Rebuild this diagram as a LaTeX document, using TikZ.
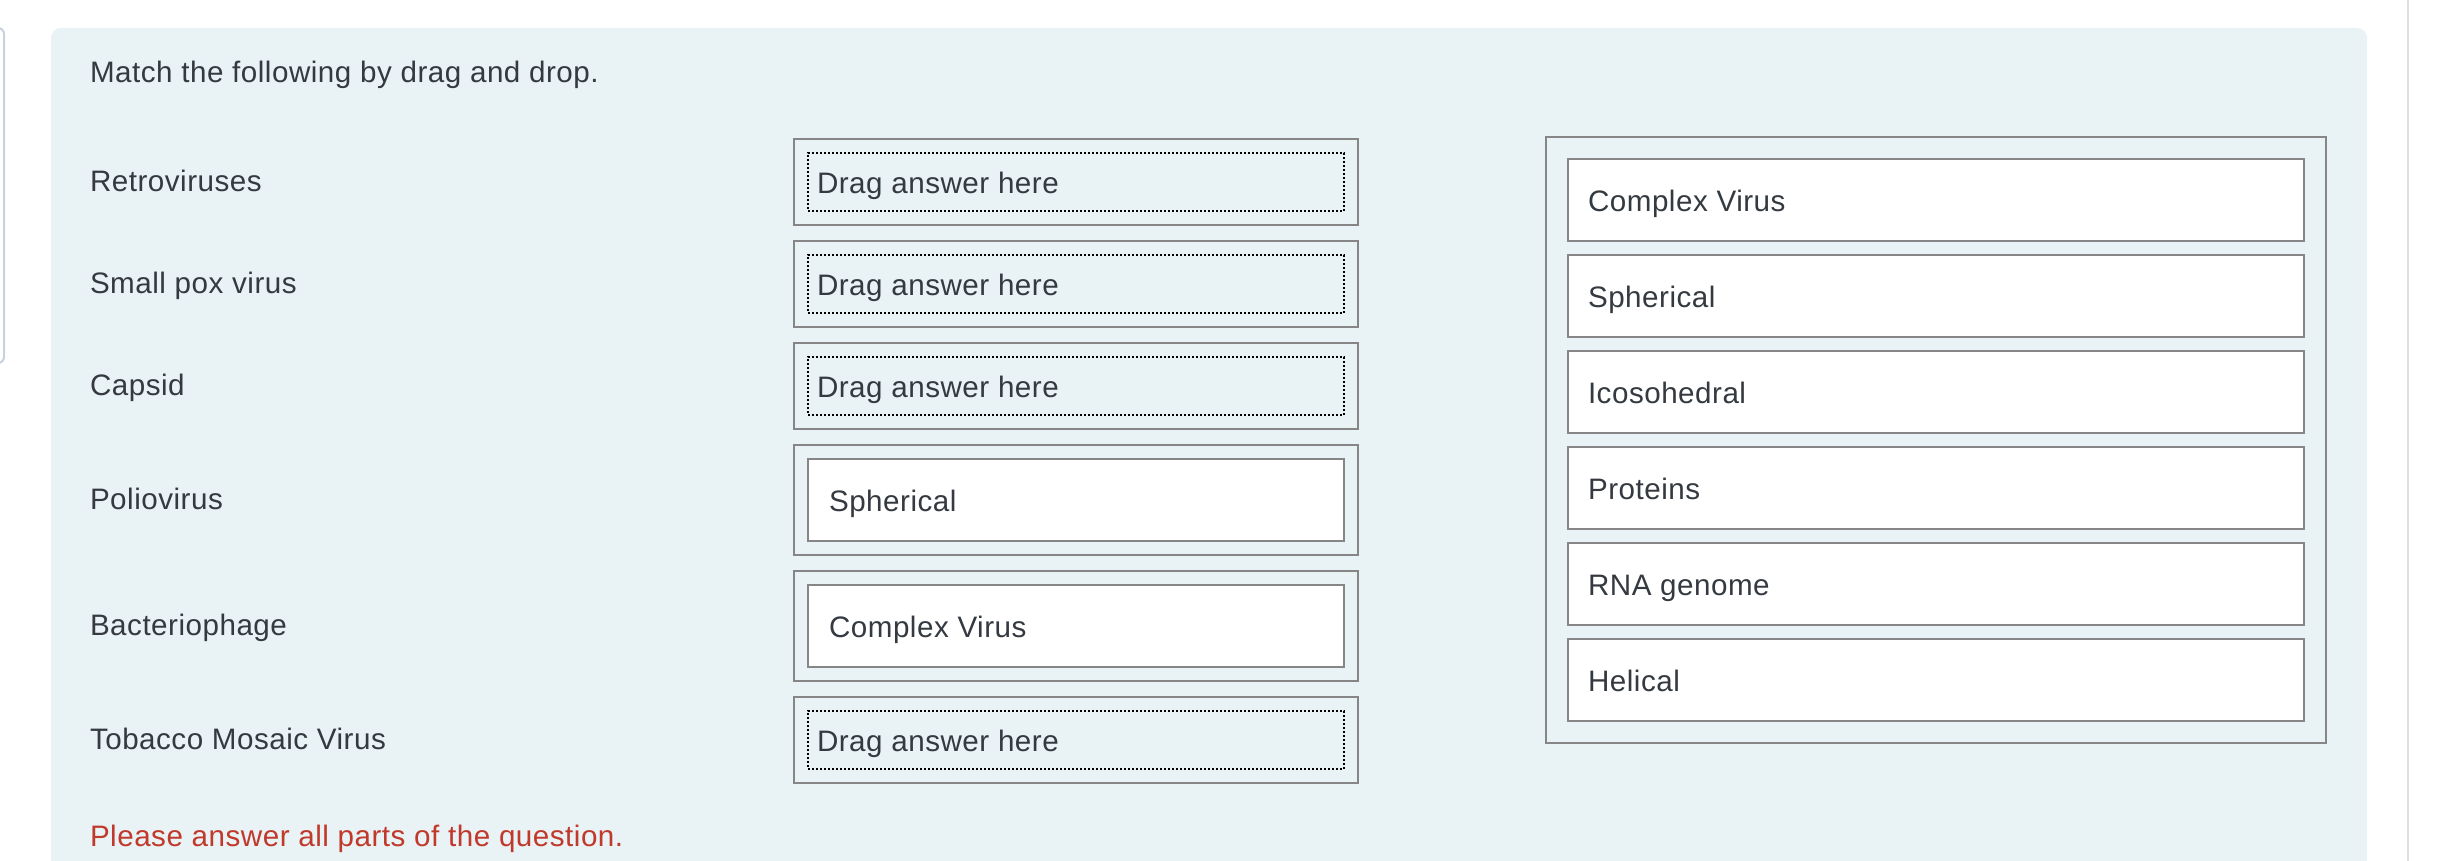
\documentclass[tikz,border=0pt]{standalone}
\usepackage{fontspec}
\setmainfont[LetterSpace=1.7]{Liberation Sans}
\definecolor{panel}{HTML}{E9F2F5}
\definecolor{ink}{HTML}{343A40}
\definecolor{edge}{HTML}{868686}
\definecolor{alert}{HTML}{C0392B}
\definecolor{cardline}{HTML}{C9D2DC}
\definecolor{rulegray}{HTML}{DEDEDE}
\tikzset{
  boxbase/.style={rectangle,anchor=north west,inner sep=0pt,outer sep=0pt,line width=1pt},
  outerbox/.style={boxbase,draw=edge,minimum width=282pt},
  dropbox/.style={boxbase,draw=black,dash pattern=on 1pt off 1pt,minimum width=268pt,minimum height=29pt},
  filledbox/.style={boxbase,draw=edge,fill=white,minimum width=268pt,minimum height=41pt},
  choicebox/.style={boxbase,draw=edge,fill=white,minimum width=368pt,minimum height=41pt},
  pool/.style={boxbase,draw=edge,minimum width=390pt,minimum height=303pt},
  label/.style={anchor=base west,inner sep=0pt,outer sep=0pt,text=ink,font=\fontsize{14.8pt}{17pt}\selectfont},
  warn/.style={label,text=alert}
}
\begin{document}
\begin{tikzpicture}[x=0.5pt,y=-0.5pt]
\useasboundingbox (0,0) rectangle (2440,860.7);
\fill[white] (0,0) rectangle (2440,861);
\draw[cardline,line width=1pt,rounded corners=3pt] (-20,28) -- (4,28) -- (4,363) -- (-20,363);
\fill[panel,rounded corners=5pt] (51,28) rectangle (2367,900);
\draw[rulegray,line width=1pt] (2408,0) -- (2408,861);

\node[label] (q) at (90,83) {Match the following by drag and drop.};
\node[label] (l1) at (90,192) {Retroviruses};
\node[label] (l2) at (90,293.5) {Small pox virus};
\node[label] (l3) at (90,395.5) {Capsid};
\node[label] (l4) at (90,509.5) {Poliovirus};
\node[label] (l5) at (90,635.5) {Bacteriophage};
\node[label] (l6) at (90,749.5) {Tobacco Mosaic Virus};
\node[warn] (w) at (90,846.5) {Please answer all parts of the question.};

\node[outerbox,minimum height=43pt] (o1) at (794,139) {};
\node[outerbox,minimum height=43pt] (o2) at (794,241) {};
\node[outerbox,minimum height=43pt] (o3) at (794,343) {};
\node[outerbox,minimum height=55pt] (o4) at (794,445) {};
\node[outerbox,minimum height=55pt] (o5) at (794,571) {};
\node[outerbox,minimum height=43pt] (o6) at (794,697) {};

\node[dropbox] (d1) at (808,153) {};
\node[dropbox] (d2) at (808,255) {};
\node[dropbox] (d3) at (808,357) {};
\node[filledbox] (d4) at (808,459) {};
\node[filledbox] (d5) at (808,585) {};
\node[dropbox] (d6) at (808,711) {};

\node[label] (t1) at (817,193.7) {Drag answer here};
\node[label] (t2) at (817,295.7) {Drag answer here};
\node[label] (t3) at (817,397.7) {Drag answer here};
\node[label] (t4) at (829,511.5) {Spherical};
\node[label] (t5) at (829,637.5) {Complex Virus};
\node[label] (t6) at (817,751.7) {Drag answer here};

\node[pool] (p) at (1546,137) {};
\node[choicebox] (c1) at (1568,159) {};
\node[choicebox] (c2) at (1568,255) {};
\node[choicebox] (c3) at (1568,351) {};
\node[choicebox] (c4) at (1568,447) {};
\node[choicebox] (c5) at (1568,543) {};
\node[choicebox] (c6) at (1568,639) {};

\node[label] (ct1) at (1588,211.7) {Complex Virus};
\node[label] (ct2) at (1588,307.5) {Spherical};
\node[label] (ct3) at (1588,403.5) {Icosohedral};
\node[label] (ct4) at (1588,499.5) {Proteins};
\node[label] (ct5) at (1588,595.5) {RNA genome};
\node[label] (ct6) at (1588,691.5) {Helical};
\end{tikzpicture}
\end{document}
